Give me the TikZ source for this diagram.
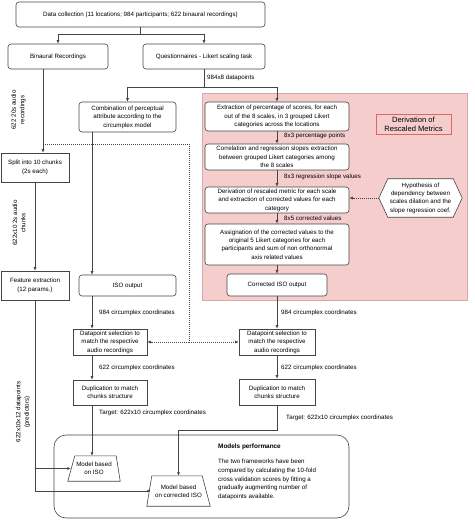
\documentclass[tikz,border=0pt]{standalone}
\usepackage{fontspec}
\setmainfont{Liberation Sans}
\usetikzlibrary{arrows.meta,calc}
\definecolor{pinkfill}{HTML}{F6CDCD}
\definecolor{pinkline}{HTML}{D8A8A8}
\definecolor{titleline}{HTML}{E06666}
\definecolor{ln}{HTML}{444444}
\begin{document}
\begin{tikzpicture}[x=1pt,y=-1pt,
  every node/.style={font=\fontsize{6.2}{8.4}\selectfont, inner sep=1pt, align=center},
  rbox/.style={draw=ln, line width=0.6pt, rounded corners=3pt, fill=white},
  sbox/.style={draw=ln, line width=0.6pt, fill=white},
  lbl/.style={anchor=west, inner sep=0pt},
  arr/.style={draw=ln, line width=0.6pt, -{Latex[length=3.5pt,width=3pt]}},
  ln/.style={draw=ln, line width=0.6pt},
  dotarr/.style={draw=ln, line width=0.6pt, dash pattern=on 0.9pt off 1.1pt, -{Latex[length=3.5pt,width=3pt]}},
  dotln/.style={draw=ln, line width=0.6pt, dash pattern=on 0.9pt off 1.1pt},
]
\useasboundingbox (0,0) rectangle (474,521);

% pink region
\node[draw=pinkline, fill=pinkfill, line width=0.6pt, minimum width=265, minimum height=207, inner sep=0pt] (pink) at (334.5,196.5) {};
\node[draw=titleline, fill=pinkfill, line width=0.6pt, minimum width=75, minimum height=20, font=\fontsize{7.6}{9}\selectfont] (title) at (413.5,124) {Derivation of\\Rescaled Metrics};

% top
\node[rbox, minimum width=249, minimum height=25] (dc) at (140.5,14.5) {Data collection (11 locations; 984 participants; 622 binaural recordings)};
\node[rbox, minimum width=100, minimum height=25] (bin) at (58,56.5) {Binaural Recordings};
\node[rbox, minimum width=122, minimum height=25] (q) at (204,56.5) {Questionnaires - Likert scaling task};

% middle left
\node[rbox, minimum width=97, minimum height=30] (comb) at (127.5,117) {Combination of perceptual\\attribute according to the\\circumplex model};
\node[sbox, minimum width=68, minimum height=29] (split) at (35,167.5) {Split into 10 chunks\\(2s each)};
\node[sbox, minimum width=68, minimum height=29] (feat) at (35,285.5) {Feature extraction\\(12 params.)};
\node[rbox, minimum width=97, minimum height=21] (iso) at (127.5,285.5) {ISO output};
\node[sbox, minimum width=74, minimum height=26] (dpL) at (110,342) {Datapoint selection to\\match the respective\\audio recordings};
\node[sbox, minimum width=74, minimum height=25] (dupL) at (110,392.5) {Duplication to match\\chunks structure};

% right chain
\node[rbox, minimum width=144, minimum height=29] (ext) at (277,116.5) {Extraction of percentage of scores, for each\\out of the 8 scales, in 3 grouped Likert\\categories across the locations};
\node[rbox, minimum width=144, minimum height=26] (corr) at (277,157) {Correlation and regression slopes extraction\\between grouped Likert categories among\\the 8 scales};
\node[rbox, minimum width=144, minimum height=26] (der) at (277,200) {Derivation of rescaled metric for each scale\\and extraction of corrected values for each\\category};
\node[rbox, minimum width=144, minimum height=41] (asg) at (277,244.5) {Assignation of the corrected values to the\\original 5 Likert categories for each\\participants and sum of non orthonormal\\axis related values};
\node[rbox, minimum width=100, minimum height=22] (ciso) at (277,285) {Corrected ISO output};
\node[sbox, minimum width=76, minimum height=26] (dpR) at (277,342) {Datapoint selection to\\match the respective\\audio recordings};
\node[sbox, minimum width=76, minimum height=26] (dupR) at (277,392) {Duplication to match\\chunks structure};

% hexagon
\node[minimum width=83, minimum height=38] (hyp) at (420.5,198) {Hypothesis of\\dependency between\\scales dilation and the\\slope regression coef.};
\draw[ln, fill=white] (hyp.west) -- ([xshift=9pt]hyp.north west) -- ([xshift=-9pt]hyp.north east) -- (hyp.east) -- ([xshift=-9pt]hyp.south east) -- ([xshift=9pt]hyp.south west) -- cycle;
\node at (hyp.center) {Hypothesis of\\dependency between\\scales dilation and the\\slope regression coef.};

% models performance
\node[draw=ln, line width=0.6pt, rounded corners=12pt, minimum width=295, minimum height=83] (mp) at (201.5,476.5) {};
\node[anchor=north west, inner sep=0pt, font=\fontsize{6.4}{8.4}\selectfont\bfseries] (mpt) at (218,444) {Models performance};
\node[anchor=north west, inner sep=0pt, align=left, font=\fontsize{6.2}{8.7}\selectfont] (mpb) at (218,459) {The two frameworks have been\\compared by calculating the 10-fold\\cross validation scores by fitting a\\gradually augmenting number of\\datapoints available.};

\node[minimum width=52, minimum height=25] (mISO) at (94,468.5) {};
\draw[ln, fill=white] ([xshift=7pt]mISO.north west) -- ([xshift=-4pt]mISO.north east) -- (mISO.south east) -- (mISO.south west) -- cycle;
\node at (mISO.center) {Model based\\on ISO};
\node[minimum width=63, minimum height=30] (mCISO) at (178.5,491) {};
\draw[ln, fill=white] ([xshift=5pt]mCISO.north west) -- ([xshift=-8pt]mCISO.north east) -- (mCISO.south east) -- (mCISO.south west) -- cycle;
\node at (mCISO.center) {Model based\\on corrected ISO};

% labels
\node[lbl] at (207,78) {984x8 datapoints};
\node[lbl] at (284,136) {8x3 percentage points};
\node[lbl] at (284,176.5) {8x3 regression slope values};
\node[lbl] at (284,218) {8x5 corrected values};
\node[lbl] at (281,313) {984 circumplex coordinates};
\node[lbl] at (281,368) {622 circumplex coordinates};
\node[lbl] at (286,418) {Target: 622x10 circumplex coordinates};
\node[lbl] at (99,313) {984 circumplex coordinates};
\node[lbl] at (99,368) {622 circumplex coordinates};
\node[lbl] at (99,413) {Target: 622x10 circumplex coordinates};
\node[rotate=90] at (18.5,110) {622 20s audio\\recordings};
\node[rotate=90] at (19,223) {622x10 2s audio\\chunks};
\node[rotate=90] at (23,412) {622x10x12 datapoints\\(predictors)};

% connectors
\coordinate (j1) at (140.5,34);
\draw[ln] (dc.south) -- (j1);
\draw[arr] (j1) -| (bin.north);
\draw[arr] (j1) -| (q.north);
\coordinate (j2) at (204,87);
\draw[ln] (q.south) -- (j2);
\draw[arr] (j2) -| (comb.north);
\draw[arr] (j2) -| (ext.north);

\coordinate (bx) at (43,0);
\draw[arr] (bin.south -| bx) -- (split.north -| bx);
\draw[arr] (split) -- (feat);
\coordinate (cx) at (92,0);
\draw[arr] (comb.south -| cx) -- (iso.north -| cx);
\draw[arr] (iso.south -| cx) -- (dpL.north -| cx);
\draw[arr] (dpL.south -| cx) -- (dupL.north -| cx);
\draw[arr] (dupL.south -| cx) -- (mISO.north -| cx);
\draw[arr] (feat.south) |- ([xshift=4pt]mCISO.west);
\draw[arr] (feat.south |- mISO.west) -- ([xshift=3pt]mISO.west);

\draw[arr] (ext) -- (corr);
\draw[arr] (corr) -- (der);
\draw[arr] (der) -- (asg);
\draw[arr] (asg) -- (ciso);
\draw[arr] (ciso) -- (dpR);
\draw[arr] (dpR) -- (dupR);
\coordinate (j3) at (277,430);
\draw[arr] (dupR.south) -- (j3) -| (mCISO.north);

\coordinate (d1) at (43,144);
\coordinate (d2) at (189,144);
\coordinate (d3) at (189,342);
\draw[dotarr] (d1) -- (d2) -- (d3) -- (dpL.east);
\draw[dotarr] (d3) -- (dpR.west);
\draw[dotarr] (hyp.west) -- (hyp.west -| der.east);
\end{tikzpicture}
\end{document}
